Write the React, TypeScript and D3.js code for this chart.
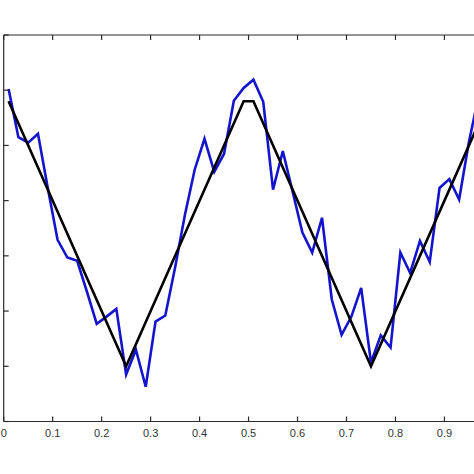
import React from "react";
import * as d3 from "d3";

const xTicks = [0, 0.1, 0.2, 0.3, 0.4, 0.5, 0.6, 0.7, 0.8, 0.9, 1];
const xTickLabels = ["0", "0.1", "0.2", "0.3", "0.4", "0.5", "0.6", "0.7", "0.8", "0.9", ""];
const yTicks = [0, 1, 2, 3, 4, 5, 6, 7];

// Noisy signal sampled at x = 0.01, 0.03, ..., 0.99
const noisyX = [
  0.01, 0.03, 0.05, 0.07, 0.09, 0.11, 0.13, 0.15, 0.17, 0.19,
  0.21, 0.23, 0.25, 0.27, 0.29, 0.31, 0.33, 0.35, 0.37, 0.39,
  0.41, 0.43, 0.45, 0.47, 0.49, 0.51, 0.53, 0.55, 0.57, 0.59,
  0.61, 0.63, 0.65, 0.67, 0.69, 0.71, 0.73, 0.75, 0.77, 0.79,
  0.81, 0.83, 0.85, 0.87, 0.89, 0.91, 0.93, 0.95, 0.97, 0.99,
];
const noisyY = [
  6.02, 5.15, 5.05, 5.21, 4.23, 3.29, 2.97, 2.91, 2.35, 1.77,
  1.9, 2.04, 0.85, 1.3, 0.63, 1.81, 1.92, 2.79, 3.74, 4.56,
  5.12, 4.52, 4.85, 5.81, 6.04, 6.19, 5.79, 4.2, 4.9, 4.16,
  3.42, 3.06, 3.69, 2.21, 1.57, 1.9, 2.42, 1.07, 1.56, 1.34,
  3.06, 2.69, 3.27, 2.89, 4.23, 4.39, 4.02, 5.06, 5.9, 6.1,
];

// Clean triangle wave (corner points)
const cleanX = [0.01, 0.25, 0.49, 0.51, 0.75, 0.99];
const cleanY = [5.8, 1.0, 5.8, 5.8, 1.0, 5.8];

const W = 474;
const H = 474;
const left = 3.7;
const top = 35;
const bottom = 421.5;
const right = left + 489.7;

export default function App() {
  const x = d3.scaleLinear().domain([0, 1]).range([left, right]);
  const y = d3.scaleLinear().domain([0, 7]).range([bottom, top]);

  const line = d3
    .line<[number, number]>()
    .x((d) => x(d[0]))
    .y((d) => y(d[1]));

  const noisy = noisyX.map((v, i) => [v, noisyY[i]] as [number, number]);
  const clean = cleanX.map((v, i) => [v, cleanY[i]] as [number, number]);

  const axisColor = "#2b2b2b";

  return (
    <svg
      width={W}
      height={H}
      style={{ position: "fixed", left: 0, top: 0, background: "#fff" }}
      fontFamily="'Liberation Sans', Arial, Helvetica, sans-serif"
    >
      <rect x={0} y={0} width={W} height={H} fill="#fff" />
      <path d={line(noisy) ?? ""} fill="none" stroke="#1414cc" strokeWidth={2.6} strokeLinejoin="miter" />
      <path d={line(clean) ?? ""} fill="none" stroke="#000" strokeWidth={2.6} strokeLinejoin="miter" />
      {/* box */}
      <line x1={left} x2={right} y1={bottom} y2={bottom} stroke={axisColor} strokeWidth={1.2} />
      <line x1={left} x2={right} y1={top} y2={top} stroke={axisColor} strokeWidth={1.2} />
      <line x1={left} x2={left} y1={top} y2={bottom} stroke={axisColor} strokeWidth={1.2} />
      <line x1={right} x2={right} y1={top} y2={bottom} stroke={axisColor} strokeWidth={1.2} />
      {xTicks.map((t, i) => (
        <g key={"x" + t}>
          <line x1={x(t)} x2={x(t)} y1={bottom} y2={bottom - 5} stroke={axisColor} strokeWidth={1.2} />
          <line x1={x(t)} x2={x(t)} y1={top} y2={top + 5} stroke={axisColor} strokeWidth={1.2} />
          {xTickLabels[i] ? (
            <text x={x(t)} y={bottom + 15} textAnchor="middle" fontSize={11} fill="#333">
              {xTickLabels[i]}
            </text>
          ) : null}
        </g>
      ))}
      {yTicks.map((t) => (
        <g key={"y" + t}>
          <line x1={left} x2={left + 5} y1={y(t)} y2={y(t)} stroke={axisColor} strokeWidth={1.2} />
          <line x1={right} x2={right - 5} y1={y(t)} y2={y(t)} stroke={axisColor} strokeWidth={1.2} />
        </g>
      ))}
    </svg>
  );
}
